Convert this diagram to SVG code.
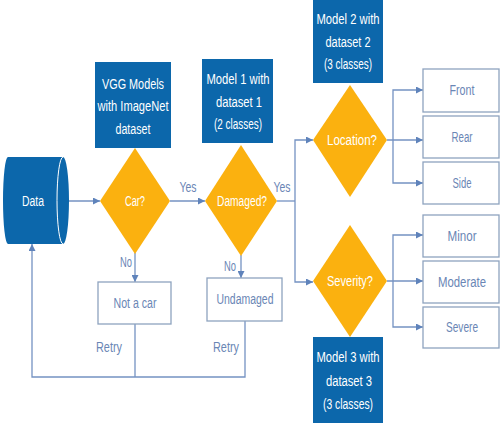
<svg xmlns="http://www.w3.org/2000/svg" width="500" height="423" viewBox="0 0 500 423">
<style>
.blue{fill:#0c67ab}
.dia{fill:#fbb10f}
.box{fill:#fff;stroke:#8ea3bf;stroke-width:1.3}
.wt{fill:#fff;font-family:"Liberation Sans",Arial,sans-serif;font-size:14px;text-anchor:middle}
.bt{fill:#6a86b5;font-family:"Liberation Sans",Arial,sans-serif;font-size:14px;text-anchor:middle}
.ln{fill:none;stroke:#7492c2;stroke-width:1.3}
</style>
<defs>
<marker id="ah" viewBox="0 0 10 10" refX="10" refY="5" markerWidth="7" markerHeight="7" markerUnits="userSpaceOnUse" orient="auto">
<path d="M0,0 L10,5 L0,10 Z" fill="#5f83bb"/>
</marker>
</defs>
<g id="connectors">
<path class="ln" d="M63,201 H100" marker-end="url(#ah)"/>
<path class="ln" d="M170,201 H205" marker-end="url(#ah)"/>
<path class="ln" d="M277,201 H295"/>
<path class="ln" d="M295,201 V140 H313" marker-end="url(#ah)"/>
<path class="ln" d="M295,201 V282 H313" marker-end="url(#ah)"/>
<path class="ln" d="M387,140 H423" marker-end="url(#ah)"/>
<path class="ln" d="M393,140 V90 H423" marker-end="url(#ah)"/>
<path class="ln" d="M393,140 V183 H423" marker-end="url(#ah)"/>
<path class="ln" d="M387,281 H423" marker-end="url(#ah)"/>
<path class="ln" d="M393,281 V235 H423" marker-end="url(#ah)"/>
<path class="ln" d="M393,281 V327 H423" marker-end="url(#ah)"/>
<path class="ln" d="M135,253 V282" marker-end="url(#ah)"/>
<path class="ln" d="M241,255 V278" marker-end="url(#ah)"/>
<path class="ln" d="M135,324 V377"/>
<path class="ln" d="M245,321 V377 H32 V244" marker-end="url(#ah)"/>
<text class="bt" x="188" y="192" textLength="17" lengthAdjust="spacingAndGlyphs">Yes</text>
<text class="bt" x="282" y="192" textLength="17" lengthAdjust="spacingAndGlyphs">Yes</text>
<text class="bt" x="126" y="267" textLength="12" lengthAdjust="spacingAndGlyphs">No</text>
<text class="bt" x="230" y="271" textLength="12" lengthAdjust="spacingAndGlyphs">No</text>
<text class="bt" x="109" y="352" textLength="26" lengthAdjust="spacingAndGlyphs">Retry</text>
<text class="bt" x="226" y="352" textLength="26" lengthAdjust="spacingAndGlyphs">Retry</text>
</g>
<g id="data">
<path class="blue" d="M8,157 L63,157 A6,43.5 0 0 1 63,244 L8,244 A5,43.5 0 0 1 8,157 Z"/>
<path d="M63,157 A6,43.5 0 0 0 63,244" fill="none" stroke="#fff" stroke-width="1"/>
<text class="wt" x="33" y="206" textLength="22" lengthAdjust="spacingAndGlyphs">Data</text>
</g>
<g id="vgg">
<rect class="blue" x="95" y="62" width="76" height="86"/>
<text class="wt" x="133" y="89" textLength="62" lengthAdjust="spacingAndGlyphs">VGG Models</text>
<text class="wt" x="133" y="111" textLength="71" lengthAdjust="spacingAndGlyphs">with ImageNet</text>
<text class="wt" x="133" y="134" textLength="35" lengthAdjust="spacingAndGlyphs">dataset</text>
</g>
<g id="car">
<path class="dia" d="M135,148 L170,201 L135,254 L100,201 Z"/>
<text class="wt" x="135" y="206" textLength="20" lengthAdjust="spacingAndGlyphs">Car?</text>
</g>
<g id="model1">
<rect class="blue" x="202" y="59" width="71" height="84"/>
<text class="wt" x="238" y="84" textLength="63" lengthAdjust="spacingAndGlyphs">Model 1 with</text>
<text class="wt" x="239" y="107" textLength="46" lengthAdjust="spacingAndGlyphs">dataset 1</text>
<text class="wt" x="238" y="129" textLength="48" lengthAdjust="spacingAndGlyphs">(2 classes)</text>
</g>
<g id="damaged">
<path class="dia" d="M241,145 L277,201 L241,256 L205,201 Z"/>
<text class="wt" x="242" y="206" textLength="50" lengthAdjust="spacingAndGlyphs">Damaged?</text>
</g>
<g id="notacar">
<rect class="box" x="98" y="282" width="73" height="42"/>
<text class="bt" x="135" y="308" textLength="43" lengthAdjust="spacingAndGlyphs">Not a car</text>
</g>
<g id="undamaged">
<rect class="box" x="207" y="278" width="75" height="43"/>
<text class="bt" x="245" y="304" textLength="57" lengthAdjust="spacingAndGlyphs">Undamaged</text>
</g>
<g id="model2">
<rect class="blue" x="313" y="0" width="70" height="83"/>
<text class="wt" x="348" y="24" textLength="63" lengthAdjust="spacingAndGlyphs">Model 2 with</text>
<text class="wt" x="348" y="47" textLength="45" lengthAdjust="spacingAndGlyphs">dataset 2</text>
<text class="wt" x="348" y="69" textLength="48" lengthAdjust="spacingAndGlyphs">(3 classes)</text>
</g>
<g id="location">
<path class="dia" d="M350,85 L387,140 L350,197 L313,140 Z"/>
<text class="wt" x="352" y="145" textLength="50" lengthAdjust="spacingAndGlyphs">Location?</text>
</g>
<g id="front">
<rect class="box" x="423" y="69" width="76" height="43"/>
<text class="bt" x="462" y="95" textLength="25" lengthAdjust="spacingAndGlyphs">Front</text>
</g>
<g id="rear">
<rect class="box" x="423" y="116" width="76" height="42"/>
<text class="bt" x="462" y="142" textLength="21" lengthAdjust="spacingAndGlyphs">Rear</text>
</g>
<g id="side">
<rect class="box" x="423" y="162" width="76" height="42"/>
<text class="bt" x="462" y="188" textLength="19" lengthAdjust="spacingAndGlyphs">Side</text>
</g>
<g id="severity">
<path class="dia" d="M350,225 L387,281 L350,337 L313,281 Z"/>
<text class="wt" x="350" y="286" textLength="46" lengthAdjust="spacingAndGlyphs">Severity?</text>
</g>
<g id="model3">
<rect class="blue" x="313" y="337" width="70" height="86"/>
<text class="wt" x="348" y="362" textLength="63" lengthAdjust="spacingAndGlyphs">Model 3 with</text>
<text class="wt" x="349" y="386" textLength="46" lengthAdjust="spacingAndGlyphs">dataset 3</text>
<text class="wt" x="348" y="409" textLength="50" lengthAdjust="spacingAndGlyphs">(3 classes)</text>
</g>
<g id="minor">
<rect class="box" x="423" y="215" width="76" height="42"/>
<text class="bt" x="462" y="241" textLength="29" lengthAdjust="spacingAndGlyphs">Minor</text>
</g>
<g id="moderate">
<rect class="box" x="423" y="261" width="76" height="42"/>
<text class="bt" x="462" y="287" textLength="48" lengthAdjust="spacingAndGlyphs">Moderate</text>
</g>
<g id="severe">
<rect class="box" x="423" y="307" width="76" height="41"/>
<text class="bt" x="462" y="332" textLength="32" lengthAdjust="spacingAndGlyphs">Severe</text>
</g>
</svg>
